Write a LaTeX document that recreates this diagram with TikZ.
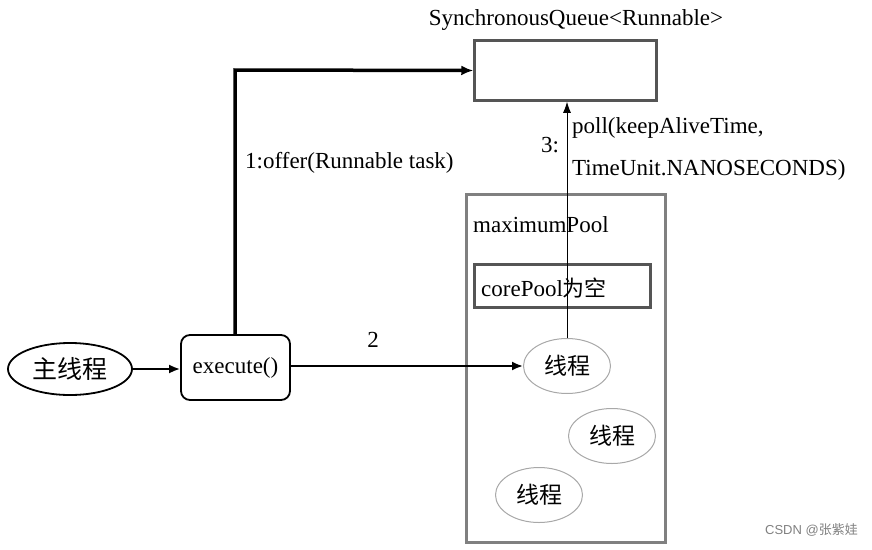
\documentclass[tikz,border=0pt]{standalone}
\usepackage{fontspec}
\setmainfont{Liberation Serif}
\newfontfamily\cjk{Noto Sans CJK SC}
\newfontfamily\wmfont{Liberation Sans}
\usetikzlibrary{arrows.meta,shapes.geometric}
\definecolor{boxgray}{HTML}{555555}
\definecolor{poolgray}{HTML}{808080}
\definecolor{thgray}{HTML}{A8A8A8}
\begin{document}
\begin{tikzpicture}[x=1pt,y=-1pt,
  every node/.style={font=\fontsize{23}{27}\selectfont, inner sep=0pt},
  lbl/.style={anchor=west},
  thread/.style={draw=thgray, line width=1pt, ellipse, minimum width=87pt, minimum height=55pt, font=\fontsize{23}{27}\selectfont\cjk},
  thickarrow/.style={line width=3.5pt, -{Latex[length=12pt,width=10pt]}},
  medarrow/.style={line width=2pt, -{Latex[length=11pt,width=9pt]}},
  thinarrow/.style={line width=0.9pt, -{Latex[length=11pt,width=8pt]}}
]
\useasboundingbox (0,0) rectangle (872,549);
% queue
\node (qlabel) at (576,20) {SynchronousQueue<Runnable>};
\node (queue) [draw=boxgray, line width=2.5pt, minimum width=182pt, minimum height=60pt] at (565.5,70.5) {};
% main thread
\node (main) [draw, line width=1.8pt, ellipse, minimum width=124pt, minimum height=52pt, font=\fontsize{25}{29}\selectfont\cjk] at (70,369) {主线程};
\node (exec) [draw, line width=1.8pt, rounded corners=9pt, minimum width=109pt, minimum height=65pt] at (235.5,367.5) {execute()};
% pool
\node (pool) [draw=poolgray, line width=3pt, minimum width=199pt, minimum height=348pt] at (566,368.5) {};
\node (poollbl) [lbl] at (473,225) {maximumPool};
\node (core) [draw=boxgray, line width=3pt, minimum width=176pt, minimum height=43pt] at (562.5,285.5) {};
\node (corelbl) [lbl] at (481,288) {corePool{\cjk\fontsize{22}{26}\selectfont 为空}};
\node (t1) [thread] at (567,366) {线程};
\node (t2) [thread] at (612,436) {线程};
\node (t3) [thread] at (539,495) {线程};
% connectors
\coordinate (bend) at (235,70);
\draw[thickarrow] (exec.north -| bend) -- (bend) -- (queue.west);
\node (l1) [lbl] at (245,163) {1:offer(Runnable task)};
\draw[medarrow] (main.east) -- (main.east -| exec.west);
\draw[medarrow] (exec.east |- t1.west) -- (t1.west);
\node (l2) at (373,340) {2};
\draw[thinarrow] (t1.north) -- (t1.north |- queue.south);
\node (l3) at (550,145) {3:};
\node (l3a) [lbl] at (572,128) {poll(keepAliveTime,};
\node (l3b) [lbl] at (572,170) {TimeUnit.NANOSECONDS)};
% watermark
\node (wm) [anchor=east, text=gray, font=\fontsize{13}{15}\selectfont\wmfont] at (858,530) {CSDN @{\cjk 张紫娃}};
\end{tikzpicture}
\end{document}
